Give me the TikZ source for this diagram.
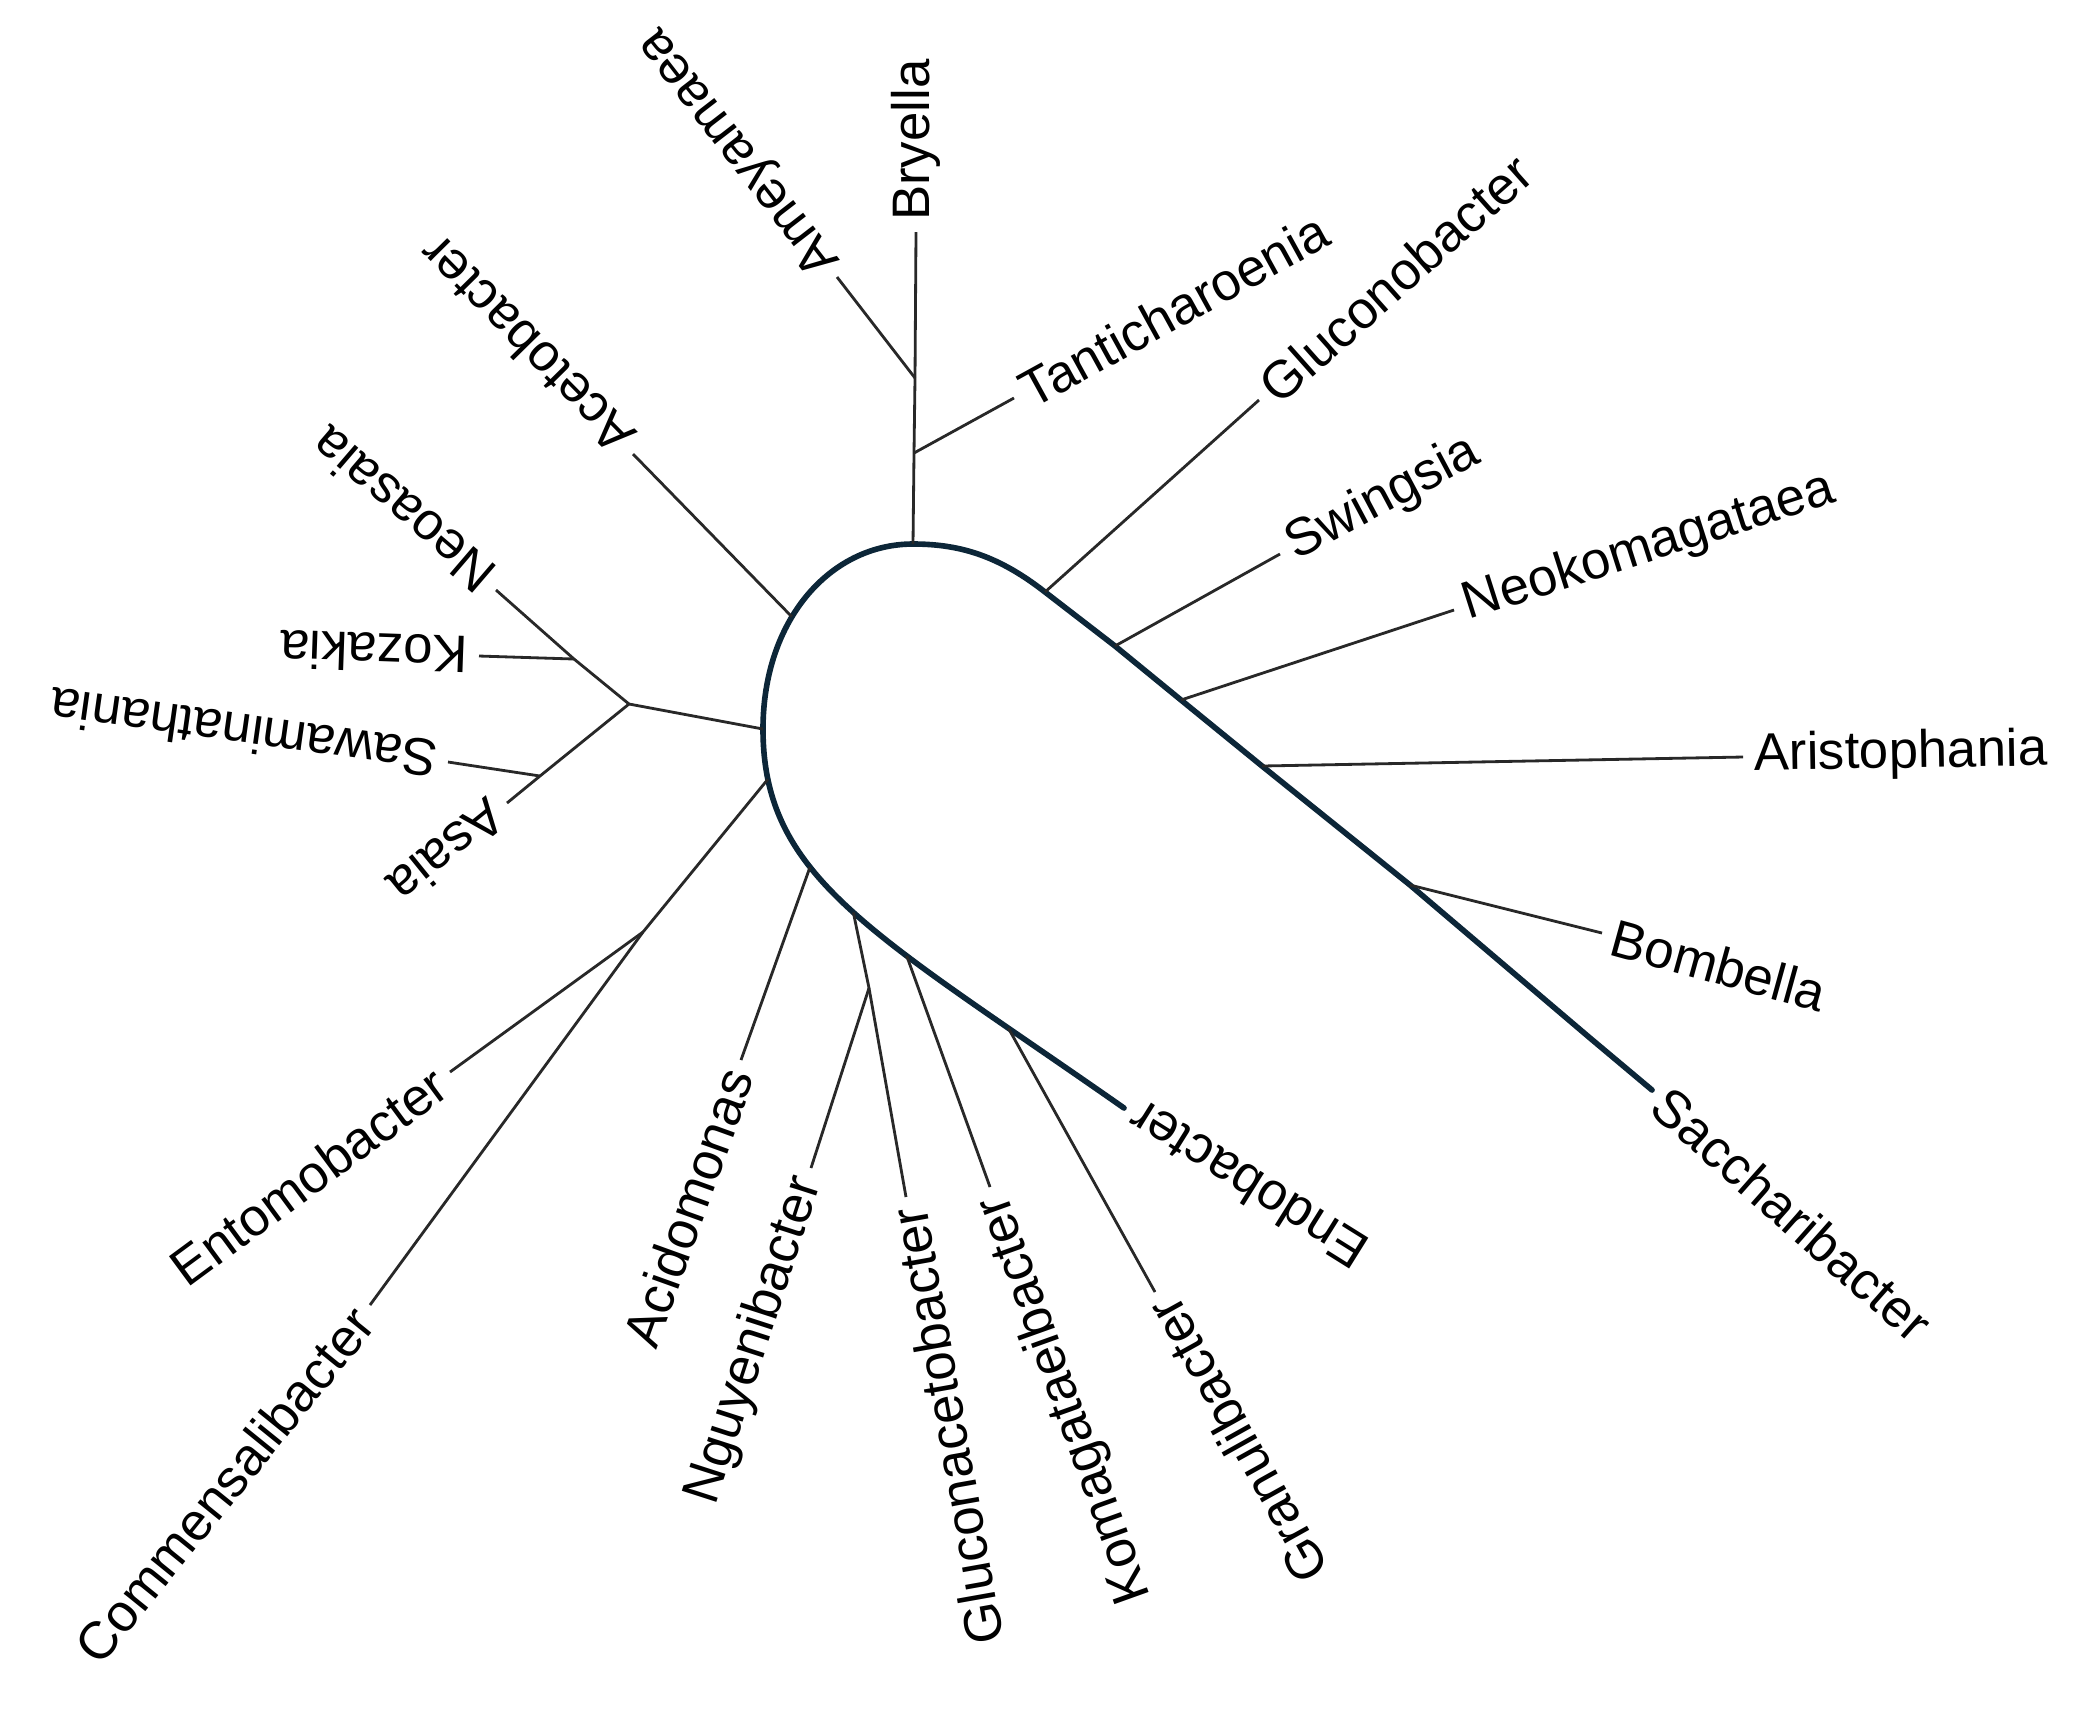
\documentclass[tikz,border=0pt]{standalone}
\usepackage{fontspec}
\setmainfont{Liberation Sans}
\definecolor{backbonenavy}{RGB}{12,38,56}
\definecolor{branchgray}{RGB}{40,40,40}
\begin{document}
\begin{tikzpicture}[
        x=0.01cm,
        y=-0.01cm,
        backbone/.style={
            line width=1.6pt,
            draw=backbonenavy,
            line cap=round,
            line join=round
        },
        branch/.style={
            line width=0.8pt,
            draw=branchgray
        },
        taxon/.style={
            font=\fontsize{15}{18}\selectfont,
            inner sep=3pt
        },
        outleaf/.style={
            taxon,
            anchor=west
        },
        inleaf/.style={
            taxon,
            anchor=east
        }
    ]

    \useasboundingbox (0,0) rectangle (2079,1711);

    % ---------------------------------------------------------
    % Taxon labels (placed at the tip of their branch)
    % ---------------------------------------------------------
    \node[outleaf, rotate=90] (bryella) at (916,232) {Bryella};
    \node[outleaf, rotate=127.7] (ameyamaea) at (837,277) {Ameyamaea};
    \node[outleaf, rotate=28.8] (tanticharoenia) at (1014,398) {Tanticharoenia};
    \node[outleaf, rotate=134.6] (acetobacter) at (633,454) {Acetobacter};
    \node[outleaf, rotate=139.4] (neoasaia) at (496,590) {Neoasaia};
    \node[outleaf, rotate=178] (kozakia) at (479,656) {Kozakia};
    \node[outleaf, rotate=172] (sawaminathania) at (448,762) {Sawaminathania};
    \node[outleaf, rotate=219] (asaia) at (507,803) {Asaia};
    \node[outleaf, rotate=41.6] (gluconobacter) at (1259,400) {Gluconobacter};
    \node[outleaf, rotate=28] (swingsia) at (1280,554) {Swingsia};
    \node[outleaf, rotate=17.7] (neokomagataea) at (1454,610) {Neokomagataea};
    \node[outleaf, rotate=1] (aristophania) at (1743,757) {Aristophania};
    \node[outleaf, rotate=-15.4] (bombella) at (1602,933) {Bombella};
    \node[outleaf, rotate=-41.5] (saccharibacter) at (1652,1090) {Saccharibacter};

    \node[inleaf, rotate=148] (endobacter) at (1124,1108) {Endobacter};
    \node[inleaf, rotate=119.1] (granulibacter) at (1155,1292) {Granulibacter};
    \node[inleaf, rotate=109.7] (komagataeibacter) at (990,1187) {Komagataeibacter};
    \node[inleaf, rotate=100.1] (gluconacetobacter) at (906,1197) {Gluconacetobacter};
    \node[inleaf, rotate=72.1] (nguyenibacter) at (811,1168) {Nguyenibacter};
    \node[inleaf, rotate=70.2] (acidomonas) at (741,1060) {Acidomonas};
    \node[inleaf, rotate=51] (commensalibacter) at (370,1305) {Commensalibacter};
    \node[inleaf, rotate=36.4] (entomobacter) at (450,1072) {Entomobacter};

    % ---------------------------------------------------------
    % Backbone, Endobacter tip round to Saccharibacter tip
    % ---------------------------------------------------------
    \draw[backbone] (endobacter.east)
        .. controls (874,933) and (763,879) .. (763,729)
            coordinate[pos=0.17] (jGran)
            coordinate[pos=0.36] (jKoma)
            coordinate[pos=0.49] (jGlac)
            coordinate[pos=0.63] (jAcid)
            coordinate[pos=0.88] (jComm)
        coordinate (jClade)
        .. controls (763,620) and (830,544) .. (913,544)
            coordinate[pos=0.4] (jAcet)
        coordinate (jTop)
        .. controls (962,544) and (1000,557) .. (1045,592)
        coordinate (jGlub)
        -- (1115,646) coordinate (jSwin)
        -- (1181,700) coordinate (jNeok)
        -- (1262,766) coordinate (jAris)
        -- (1410,885) coordinate (jBomb)
        -- (1590,1038)
        -- (saccharibacter.west);

    % Inner nodes of the side clades
    \coordinate (nBry1) at (914,453);
    \coordinate (nBry2) at (915,378);
    \coordinate (nClade) at (629,704);
    \coordinate (nKoz) at (574,659);
    \coordinate (nSaw) at (540,776);
    \coordinate (nEnto) at (643,932);
    \coordinate (nNguy) at (869,988);

    % ---------------------------------------------------------
    % Side branches
    % ---------------------------------------------------------
    \draw[branch] (jTop) -- (nBry1) -- (nBry2) -- (bryella.west);
    \draw[branch] (nBry2) -- (ameyamaea.west);
    \draw[branch] (nBry1) -- (tanticharoenia.west);
    \draw[branch] (jAcet) -- (acetobacter.west);

    \draw[branch] (jClade) -- (nClade) -- (nKoz) -- (neoasaia.west);
    \draw[branch] (nKoz) -- (kozakia.west);
    \draw[branch] (nClade) -- (nSaw) -- (asaia.west);
    \draw[branch] (nSaw) -- (sawaminathania.west);

    \draw[branch] (jGlub) -- (gluconobacter.west);
    \draw[branch] (jSwin) -- (swingsia.west);
    \draw[branch] (jNeok) -- (neokomagataea.west);
    \draw[branch] (jAris) -- (aristophania.west);
    \draw[branch] (jBomb) -- (bombella.west);

    \draw[branch] (jComm) -- (nEnto) -- (commensalibacter.east);
    \draw[branch] (nEnto) -- (entomobacter.east);
    \draw[branch] (jAcid) -- (acidomonas.east);
    \draw[branch] (jGlac) -- (nNguy) -- (gluconacetobacter.east);
    \draw[branch] (nNguy) -- (nguyenibacter.east);
    \draw[branch] (jKoma) -- (komagataeibacter.east);
    \draw[branch] (jGran) -- (granulibacter.east);

\end{tikzpicture}
\end{document}
